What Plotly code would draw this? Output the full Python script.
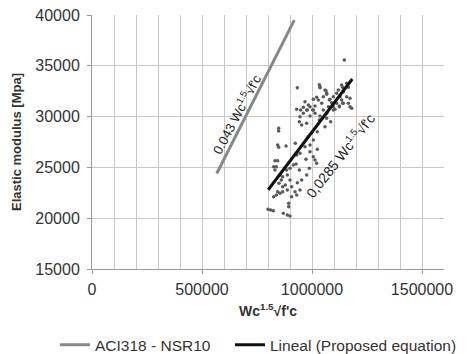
import plotly.graph_objects as go

# Measured data points (Wc^1.5 * sqrt(f'c), Elastic modulus MPa)
data_x = [848500, 848500, 843900, 848500, 881800, 831800, 843900, 825800, 837900, 831800,
          854500, 866700, 860600, 850000, 866700, 843900, 854500, 825800, 837900, 800000,
          812100, 824200, 869700, 887900, 900000, 893900, 893900, 884900, 900000, 915100,
          927300, 887900, 900000, 878800, 866700, 887900, 907600, 933300, 922700, 945400,
          930300, 907600, 933300, 1033300, 1036400, 1063600, 1066700, 1051500, 1021200, 1006100,
          968200, 983300, 960600, 930300, 948500, 978800, 1003000, 1013600, 990900, 945400,
          942400, 953000, 975800, 1033300, 1066700, 1084800, 1059100, 1097000, 1112100, 1078800,
          1089400, 1127300, 1142400, 1139400, 1157600, 1165100, 1124200, 1104500, 1066700, 1036400,
          1024200, 1006100, 983300, 968200, 990900, 1006100, 1013600, 1021200, 990900, 972700,
          987900, 975800, 953000, 942400, 930300, 945400, 924200, 1024200,
          1147000, 1134900, 1139400, 1119700, 1112100, 1097000, 1081800, 1066700, 1059100, 1036400,
          1028800, 1044000, 1074300, 1097000, 1051500, 1134900, 1157600, 1172700, 1165100, 1172700,
          1180300, 1142400, 1124200, 1006100, 1013600, 990900, 975800, 960600]
data_y = [28845, 28582, 27205, 26975, 27106, 25662, 25662, 25072, 25072, 24744,
          24252, 24088, 23760, 23431, 23103, 22611, 22447, 22119, 22283, 20873,
          20807, 20741, 20478, 20314, 20216, 21135, 21463, 24744, 24908, 25236,
          25335, 24252, 23760, 23267, 22611, 22775, 23103, 23497, 22611, 22775,
          22283, 22119, 32848, 33143, 32848, 32552, 32192, 31962, 31896, 31699,
          31470, 31142, 30912, 30715, 30650, 30650, 30650, 30321, 30059, 29993,
          29501, 29173, 29337, 29665, 29829, 29501, 29009, 30978, 31306, 31634,
          31371, 31962, 32454, 31306, 33274, 32881, 30978, 30715, 30321, 30059,
          28517, 27697, 28025, 27040, 27205, 26056, 25728, 25400, 26548, 25794,
          24908, 24252, 23760, 24744, 26220, 26384, 27369, 26778,
          35570, 33110, 32880, 32617, 32290, 31961, 31699, 32290, 32617, 32945,
          31633, 31305, 30977, 30649, 30649, 31633, 31961, 31797, 31305, 30977,
          30813, 31305, 31043, 30649, 31043, 30977, 30649, 30321]

# Line end points
aci_x = [567000, 919500]
aci_y = [24400, 39500]
prop_x = [801000, 1183000]
prop_y = [22800, 33700]

legend_names = ["ACI318 - NSR10", "Lineal (Proposed equation)"]
x_ticks = [0, 500000, 1000000, 1500000]
y_ticks = [15000, 20000, 25000, 30000, 35000, 40000]

FONT = "Liberation Sans, Arial, sans-serif"

fig = go.Figure()
fig.add_trace(go.Scatter(x=data_x, y=data_y, mode="markers",
                         marker=dict(size=3.5, color="#5a5a5a"), showlegend=False))
fig.add_trace(go.Scatter(x=aci_x, y=aci_y, mode="lines", name=legend_names[0],
                         line=dict(color="#888888", width=3), legend="legend"))
fig.add_trace(go.Scatter(x=prop_x, y=prop_y, mode="lines", name=legend_names[1],
                         line=dict(color="#111111", width=3), legend="legend2"))

fig.add_annotation(x=655000, y=30300, text="0.043 Wc<sup>1.5</sup>√f'c", showarrow=False,
                   textangle=-62, font=dict(family=FONT, size=13, color="#222222"))
fig.add_annotation(x=1128000, y=26200, text="0,0285 Wc<sup>1.5</sup>√f'c", showarrow=False,
                   textangle=-52, font=dict(family=FONT, size=14, color="#222222"))

legend_common = dict(orientation="h", xref="container", yref="container",
                     xanchor="left", y=0.025, yanchor="middle",
                     font=dict(size=15.5, color="#333333"), itemwidth=30,
                     bgcolor="rgba(0,0,0,0)")

fig.update_layout(
    width=467, height=354,
    margin=dict(l=92, r=23, t=15, b=85, autoexpand=False),
    paper_bgcolor="white", plot_bgcolor="white",
    font=dict(family=FONT, size=16, color="#333333"),
    legend=dict(x=55 / 467, **legend_common),
    legend2=dict(x=230 / 467, **legend_common),
)
fig.update_xaxes(range=[0, 1600000], tickvals=x_ticks, ticktext=[str(v) for v in x_ticks],
                 showgrid=True, gridcolor="#c8c8c8", gridwidth=1,
                 minor=dict(dtick=100000, showgrid=True, gridcolor="#c8c8c8", gridwidth=1),
                 showline=True, linecolor="#999999", linewidth=1,
                 ticks="outside", ticklen=4, tickcolor="#999999",
                 zeroline=False, tickfont=dict(size=16), ticklabelstandoff=2,
                 title=dict(text="<b>Wc<sup>1.5</sup>√f'c</b>", font=dict(size=14, color="#333333"),
                            standoff=8))
fig.update_yaxes(range=[15000, 40000], tickvals=y_ticks, ticktext=[str(v) for v in y_ticks],
                 showgrid=True, gridcolor="#c8c8c8", gridwidth=1,
                 showline=True, linecolor="#999999", linewidth=1,
                 ticks="outside", ticklen=4, tickcolor="#999999",
                 zeroline=False, tickfont=dict(size=16), ticklabelstandoff=4,
                 title=dict(text="<b>Elastic modulus [Mpa]</b>", font=dict(size=13, color="#333333"),
                            standoff=10))

fig.write_html("out.html")
